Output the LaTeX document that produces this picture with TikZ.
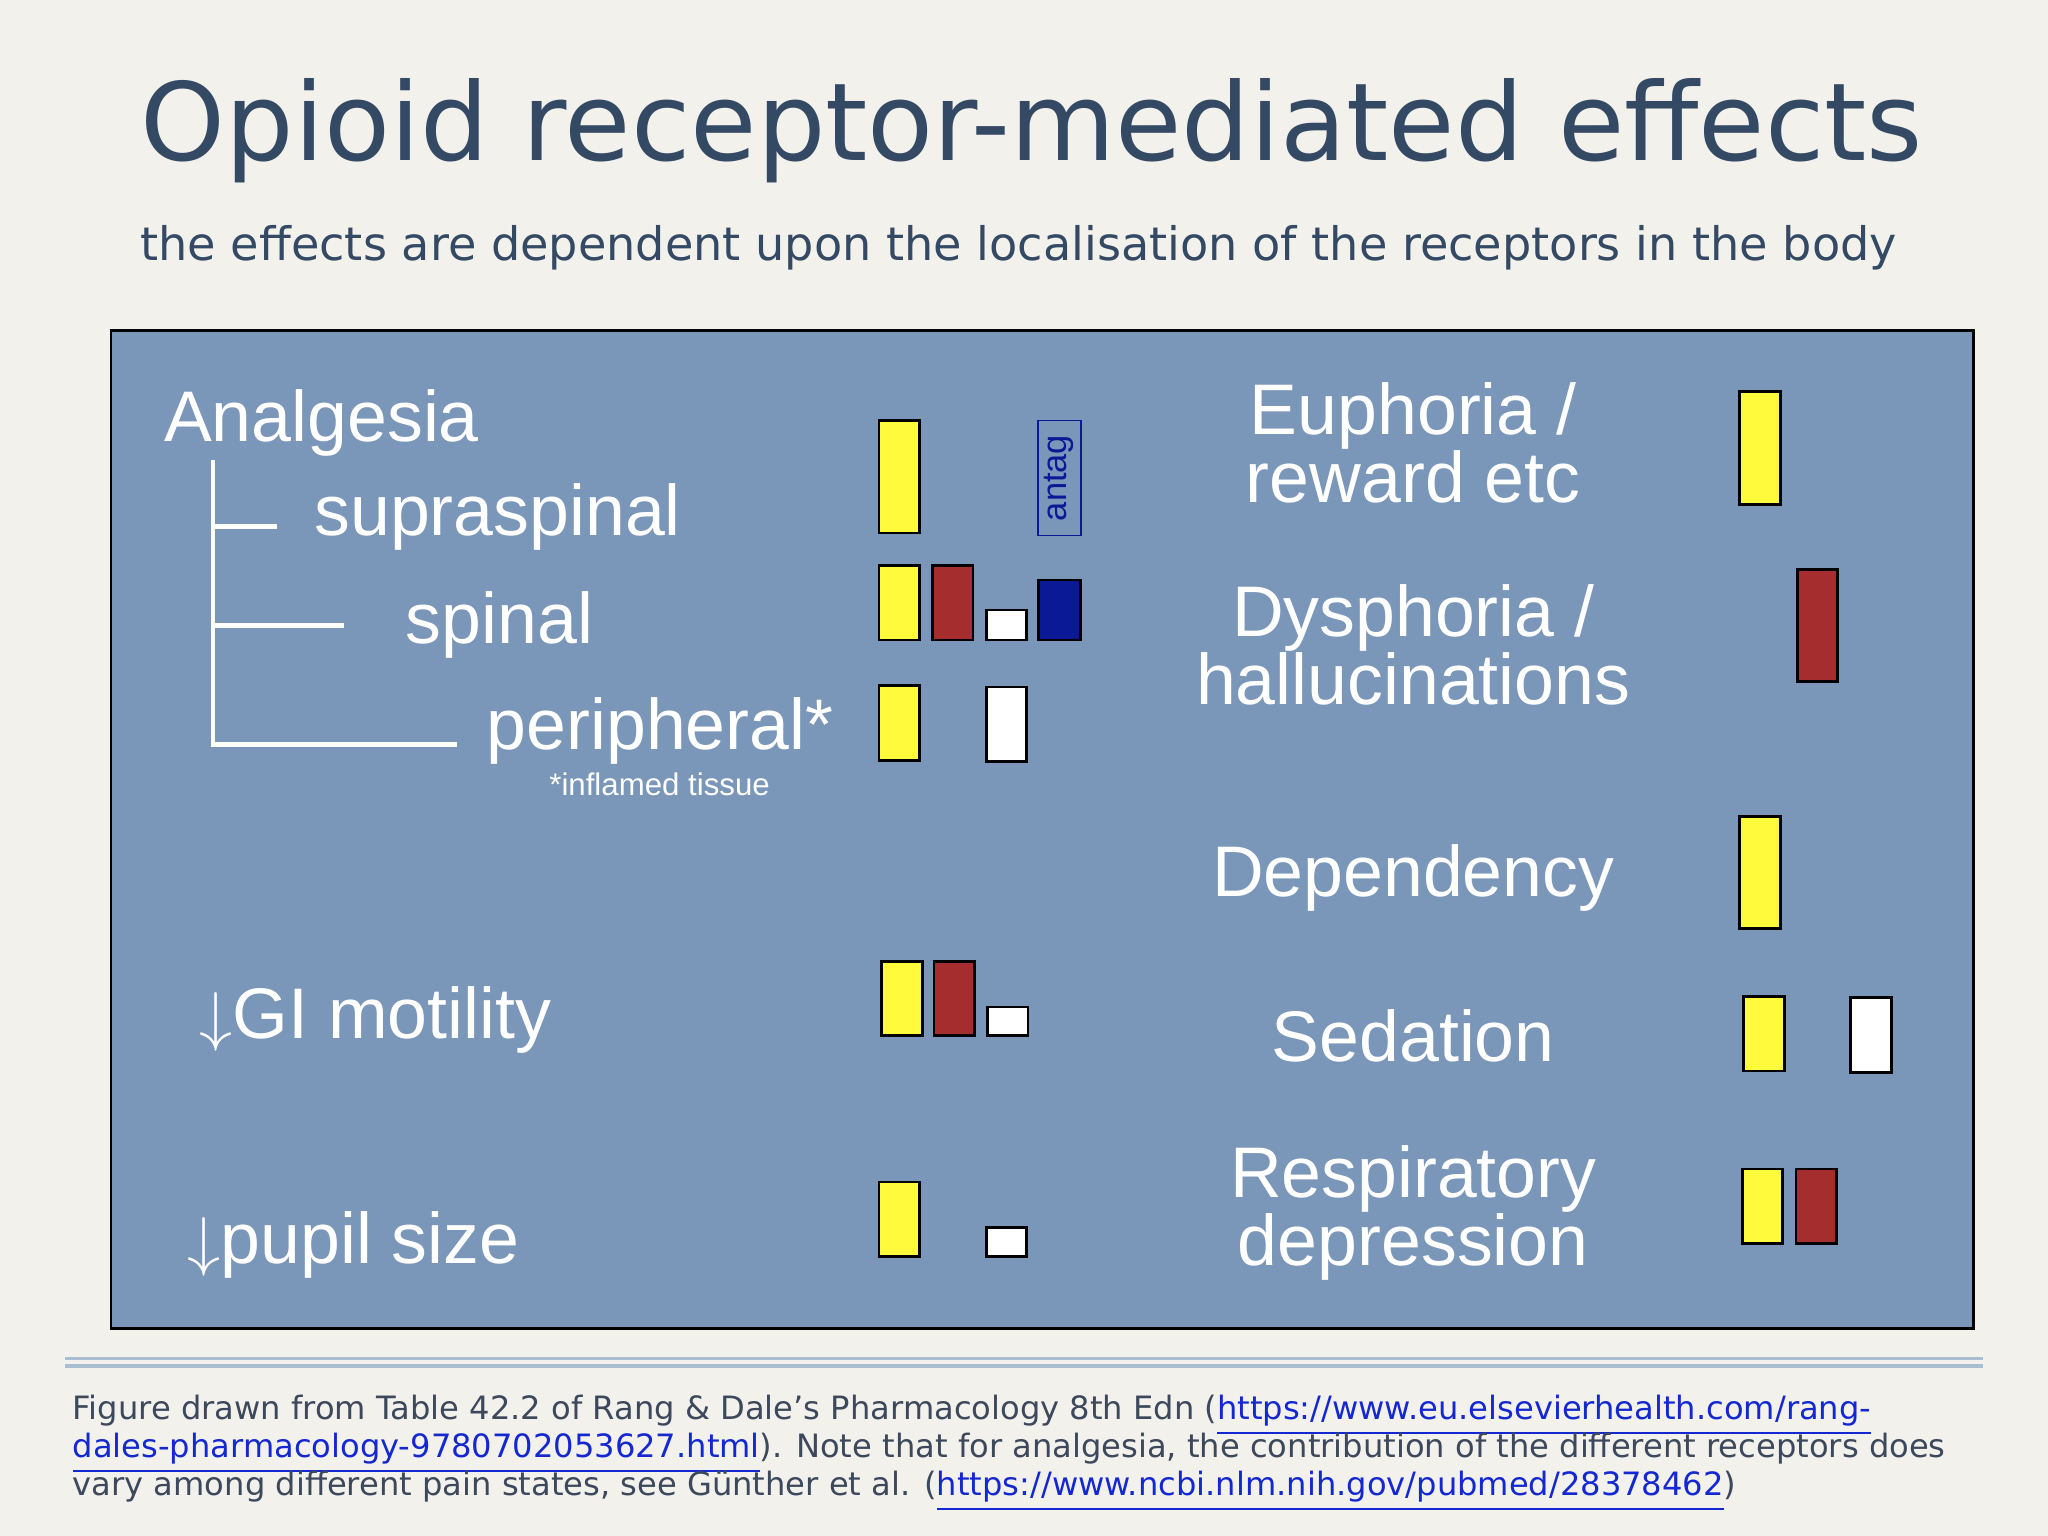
\documentclass[tikz,border=0pt]{standalone}
\usepackage{fontspec}
\setmainfont{Liberation Sans}
\newfontfamily\vfont{DejaVu Sans}
\definecolor{bg}{RGB}{243,241,236}
\definecolor{boxc}{RGB}{122,150,185}
\definecolor{titlec}{RGB}{52,73,100}
\definecolor{ybar}{RGB}{255,250,60}
\definecolor{rbar}{RGB}{165,45,45}
\definecolor{nbar}{RGB}{10,25,150}
\definecolor{footc}{RGB}{60,72,92}
\definecolor{linkc}{RGB}{20,40,210}
\definecolor{rulec}{RGB}{170,190,210}
\begin{document}
\begin{tikzpicture}[x=0.01cm,y=-0.01cm,
  bar/.style={draw=black,line width=0.6pt},
  lab/.style={text=white,font=\fontsize{15.6pt}{14.8pt}\selectfont,inner sep=0pt},
  rlab/.style={lab,align=center},
  link/.style={text=linkc}]
\fill[bg] (0,0) rectangle (1568,1176);
\useasboundingbox (0,0) rectangle (1568,1176);
\node[text=titlec,font=\vfont\fontsize{23.5pt}{28pt}\selectfont] (title) at (790,100) {Opioid receptor-mediated effects};
\node[text=titlec,font=\vfont\fontsize{10.05pt}{12pt}\selectfont] (sub) at (780,190) {the effects are dependent upon the localisation of the receptors in the body};
\draw[fill=boxc,draw=black,line width=0.6pt] (85,253) rectangle (1511,1017);
% left labels
\node[lab,anchor=base west] (an) at (125,338) {Analgesia};
\node[lab,anchor=base west] (su) at (240,410) {supraspinal};
\node[lab,anchor=base west] (sp) at (310,493) {spinal};
\node[lab,anchor=base west] (pe) at (372,574) {peripheral*};
\node[text=white,font=\fontsize{6.8pt}{8pt}\selectfont,anchor=base] (inf) at (505,609) {*inflamed tissue};
\node[lab,anchor=base west] (gi) at (152,795) {$\downarrow$GI motility};
\node[lab,anchor=base west] (pu) at (143,967) {$\downarrow$pupil size};
\draw[white,line width=1pt] (163,352) -- (163,570) -- (350,570);
\draw[white,line width=1pt] (163,403) -- (212,403);
\draw[white,line width=1pt] (163,479) -- (263,479);
% left bars
\draw[bar,fill=ybar] (673,322) rectangle (704,408);
\node[draw=nbar,text=nbar,rotate=90,inner sep=0pt,minimum width=0.88cm,minimum height=0.33cm,font=\fontsize{7.5pt}{9pt}\selectfont] (antag) at (811,366) {antag};
\draw[bar,fill=ybar] (673,433) rectangle (704,490);
\draw[bar,fill=rbar] (714,433) rectangle (745,490);
\draw[bar,fill=white] (755,467) rectangle (786,490);
\draw[bar,fill=nbar] (795,444) rectangle (827,490);
\draw[bar,fill=ybar] (673,525) rectangle (704,582);
\draw[bar,fill=white] (755,526) rectangle (786,583);
\draw[bar,fill=ybar] (675,736) rectangle (706,793);
\draw[bar,fill=rbar] (715,736) rectangle (746,793);
\draw[bar,fill=white] (756,771) rectangle (787,793);
\draw[bar,fill=ybar] (673,905) rectangle (704,962);
\draw[bar,fill=white] (755,940) rectangle (786,962);
% right labels
\node[rlab] (eu) at (1082,339) {Euphoria /\\reward etc};
\node[rlab] (dy) at (1082,494) {Dysphoria /\\hallucinations};
\node[rlab] (de) at (1082,672) {Dependency};
\node[rlab] (se) at (1082,793) {Sedation};
\node[rlab] (re) at (1082,929) {Respiratory\\depression};
% right bars
\draw[bar,fill=ybar] (1332,300) rectangle (1363,386);
\draw[bar,fill=rbar] (1376,436) rectangle (1407,522);
\draw[bar,fill=ybar] (1332,625) rectangle (1363,711);
\draw[bar,fill=ybar] (1335,763) rectangle (1366,820);
\draw[bar,fill=white] (1417,764) rectangle (1448,821);
\draw[bar,fill=ybar] (1334,895) rectangle (1365,952);
\draw[bar,fill=rbar] (1375,895) rectangle (1406,952);
% footer
\draw[rulec,line width=0.8pt] (50,1040) -- (1518,1040);
\draw[rulec,line width=0.8pt] (50,1046) -- (1518,1046);
\begin{scope}[every node/.style={anchor=base west,inner sep=0pt,text=footc,font=\vfont\fontsize{7pt}{8pt}\selectfont}]
\node (f1) at (55,1087) {Figure drawn from Table 42.2 of Rang \& Dale’s Pharmacology 8th Edn (\textcolor{linkc}{\underline{https://www.eu.elsevierhealth.com/rang-}}};
\node (f2) at (55,1116) {\textcolor{linkc}{\underline{dales-pharmacology-9780702053627.html}}). Note that for analgesia, the contribution of the different receptors does};
\node (f3) at (55,1145) {vary among different pain states, see Günther et al. (\textcolor{linkc}{\underline{https://www.ncbi.nlm.nih.gov/pubmed/28378462}})};
\end{scope}
\end{tikzpicture}
\end{document}
